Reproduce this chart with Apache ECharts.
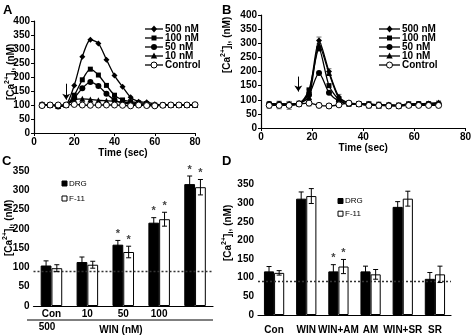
<!DOCTYPE html>
<html>
<head>
<meta charset="utf-8">
<script src="https://cdn.jsdelivr.net/npm/echarts@6/dist/echarts.min.js"></script>
<style>
  html, body { margin: 0; padding: 0; background: #fff; }
  #chart { width: 474px; height: 335px; }
</style>
</head>
<body>
<div id="chart"></div>
<script>
// ---- Panel A: WIN dose response, DRG neurons ----
const timeA = [4, 8, 12, 16, 20, 24, 28, 32, 36, 40, 44, 48, 52, 56, 60, 64, 68, 72, 76, 80];
const a500 = [103, 100, 97, 101, 170, 272, 333, 320, 262, 205, 165, 128, 112, 110, 103, 100, 100, 100, 100, 100];
const a100 = [102, 100, 96, 100, 135, 190, 228, 207, 170, 135, 118, 112, 108, 105, 100, 100, 100, 100, 100, 100];
const a50  = [101, 100, 95, 100, 125, 160, 182, 168, 140, 118, 108, 104, 100, 100, 98, 100, 100, 100, 100, 100];
const a10  = [100, 100, 97, 100, 118, 122, 120, 117, 115, 113, 110, 108, 104, 102, 100, 100, 100, 100, 100, 100];
const aCtl = [98, 100, 100, 100, 102, 100, 99, 100, 100, 100, 99, 97, 100, 98, 97, 99, 100, 100, 100, 101];
const arrowA = [[16, 176], [16, 119]];

// ---- Panel B: WIN dose response, F-11 cells ----
const timeB = [3.2, 7.1, 11, 14.9, 18.8, 22.7, 26.6, 30.5, 34.4, 38.3, 42.2, 46.1, 50, 53.9, 57.8, 61.7, 65.6, 69.5];
const b500 = [85, 85, 85, 88, 125, 310, 200, 110, 88, 85, 85, 82, 82, 80, 85, 85, 85, 88];
const b100 = [82, 80, 82, 85, 135, 280, 150, 100, 85, 85, 85, 80, 80, 80, 85, 85, 85, 85];
const b50  = [85, 85, 82, 85, 118, 195, 125, 95, 85, 85, 82, 82, 80, 78, 82, 85, 85, 85];
const b10  = [85, 85, 85, 88, 110, 295, 195, 105, 88, 85, 82, 80, 82, 80, 82, 85, 88, 90];
const bCtl = [80, 80, 80, 85, 88, 80, 78, 82, 88, 85, 80, 80, 78, 78, 80, 80, 80, 80];
const b500err = [9, 10, 9, 8, 12, 12, 10, 9, 8, 8, 9, 10, 8, 9, 8, 8, 8, 8];
const bCtlErr = [10, 12, 14, 6, 10, 8, 8, 6, 6, 8, 10, 10, 8, 8, 6, 6, 6, 8];
const arrowB = [[14.6, 182], [14.6, 129]];

// ---- Panel C: peak [Ca2+]i vs WIN concentration ----
const catC = ['Con', '10', '50', '100', '500'];
const cDRG = [105, 114, 159, 216, 316];
const cDRGerr = [12, 13, 11, 13, 21];
const cF11 = [98, 107, 140, 225, 308];
const cF11err = [9, 9, 15, 18, 20];
const cStar = [0, 0, 1, 1, 1];
const baseC = 90;

// ---- Panel D: antagonists ----
const catD = ['Con', 'WIN', 'WIN+AM', 'AM', 'WIN+SR', 'SR'];
const dDRG = [117, 312, 117, 117, 290, 97];
const dDRGerr = [13, 18, 18, 14, 14, 17];
const dF11 = [113, 319, 130, 109, 312, 109];
const dF11err = [6, 20, 19, 13, 20, 22];
const dStar = [0, 0, 1, 0, 0, 0];
const baseD = 91;

const doses = ['500 nM', '100 nM', '50 nM', '10 nM', 'Control'];
const doseSymbols = ['diamond', 'rect', 'circle', 'triangle', 'circle'];
const cells = ['DRG', 'F-11'];

const FONT = 'Arial, "Liberation Sans", Helvetica, sans-serif';

function axisStyle(labelExtra) {
  return {
    axisLine: { lineStyle: { color: '#000', width: 1.2 } },
    axisTick: { length: 3, lineStyle: { color: '#000', width: 1 } },
    axisLabel: Object.assign({ color: '#000', fontWeight: 'bold', fontSize: 10, fontFamily: FONT, margin: 4 }, labelExtra || {}),
    splitLine: { show: false }
  };
}
const nameStyle = { color: '#000', fontWeight: 'bold', fontSize: 10, fontFamily: FONT };

function pairs(xs, ys) { return xs.map((x, i) => [x, ys[i]]); }
const symSize = (s) => (s === 'rect' ? 5 : 6);

function lineSeries(name, data, gi, symbol, open) {
  return {
    type: 'line', name, xAxisIndex: gi, yAxisIndex: gi,
    data, smooth: 0.25,
    symbol, symbolSize: symSize(symbol), showSymbol: true,
    lineStyle: { color: '#000', width: 1.3 },
    itemStyle: open ? { color: '#fff', borderColor: '#000', borderWidth: 1 } : { color: '#000', borderColor: '#000', borderWidth: 0 },
    z: open ? 4 : 3
  };
}
function doseSeries(xs, rows, gi) {
  return doses.map((d, k) => lineSeries(d, pairs(xs, rows[k]), gi, doseSymbols[k], k === doses.length - 1));
}

function arrowLine(pts) {
  return {
    silent: true, symbol: ['none', 'arrow'], symbolSize: 6,
    label: { show: false },
    lineStyle: { color: '#000', width: 1, type: 'solid' },
    data: [[{ coord: pts[0] }, { coord: pts[1] }]]
  };
}

// whiskers for the time-course points
function lineErrSeries(xs, ys, es, gi) {
  return {
    type: 'custom', xAxisIndex: gi, yAxisIndex: gi, silent: true, z: 2,
    data: xs.map((x, i) => [x, ys[i], es[i]]),
    renderItem(params, api) {
      const x = api.value(0), v = api.value(1), e = api.value(2);
      const t = api.coord([x, v + e]), b = api.coord([x, v - e]);
      const st = { stroke: '#777', lineWidth: 1 };
      return { type: 'group', children: [
        { type: 'line', shape: { x1: t[0], y1: t[1], x2: b[0], y2: b[1] }, style: st },
        { type: 'line', shape: { x1: t[0] - 2.5, y1: t[1], x2: t[0] + 2.5, y2: t[1] }, style: st },
        { type: 'line', shape: { x1: b[0] - 2.5, y1: b[1], x2: b[0] + 2.5, y2: b[1] }, style: st }
      ] };
    }
  };
}

// whiskers (+ significance star) for grouped bars; side -1 = DRG, +1 = F-11
function barErrSeries(vals, errs, stars, gi, frac, side) {
  return {
    type: 'custom', xAxisIndex: gi, yAxisIndex: gi, silent: true, z: 5,
    data: vals.map((v, i) => [i, v, errs[i], stars[i]]),
    renderItem(params, api) {
      const i = api.value(0), v = api.value(1), e = api.value(2), s = api.value(3);
      const band = api.size([1, 0])[0];
      const bw = band * frac;
      const c = api.coord([i, v]);
      const x = c[0] + side * bw / 2;
      const top = api.coord([i, v + e])[1], bot = api.coord([i, v - e])[1];
      const st = { stroke: '#000', lineWidth: 1 };
      const kids = [
        { type: 'line', shape: { x1: x, y1: top, x2: x, y2: bot }, style: st },
        { type: 'line', shape: { x1: x - 2.5, y1: top, x2: x + 2.5, y2: top }, style: st },
        { type: 'line', shape: { x1: x - 2.5, y1: bot, x2: x + 2.5, y2: bot }, style: st }
      ];
      if (s) {
        kids.push({ type: 'text', style: { x: x, y: top - 1, text: '*', font: 'bold 11px ' + FONT,
          fill: '#444', align: 'center', verticalAlign: 'bottom' } });
      }
      return { type: 'group', children: kids };
    }
  };
}

function barSeries(name, vals, gi, gap, filled, base) {
  const s = {
    type: 'bar', name, xAxisIndex: gi, yAxisIndex: gi, data: vals,
    barGap: '0%', barCategoryGap: gap,
    itemStyle: filled ? { color: '#000', borderColor: '#000', borderWidth: 1 } : { color: '#fff', borderColor: '#000', borderWidth: 1 },
    z: 2
  };
  if (base !== undefined) {
    s.markLine = {
      silent: true, symbol: 'none', label: { show: false },
      lineStyle: { color: '#333', width: 1.3, type: [2, 2] },
      data: [{ yAxis: base }]
    };
  }
  return s;
}

// ---------- keys, titles and panel letters as graphic elements ----------
function plainText(text, x, y, size, bold, align) {
  return { type: 'text', x, y, style: { text, font: (bold ? 'bold ' : '') + size + 'px ' + FONT, fill: '#000',
    align: align || 'left', verticalAlign: 'middle' } };
}
function markerShape(sym, cx, cy, open) {
  const fill = open ? '#fff' : '#000';
  const st = { fill, stroke: '#000', lineWidth: open ? 1 : 0 };
  if (sym === 'diamond') return { type: 'polygon', shape: { points: [[cx, cy - 3.5], [cx + 3, cy], [cx, cy + 3.5], [cx - 3, cy]] }, style: st };
  if (sym === 'rect') return { type: 'rect', shape: { x: cx - 2.5, y: cy - 2.5, width: 5, height: 5 }, style: st };
  if (sym === 'triangle') return { type: 'polygon', shape: { points: [[cx, cy - 3.5], [cx + 3.2, cy + 2.5], [cx - 3.2, cy + 2.5]] }, style: st };
  return { type: 'circle', shape: { cx, cy, r: 3 }, style: st };
}
function doseKey(x0, x1, y0, step) {
  const out = [];
  doses.forEach((d, k) => {
    const y = y0 + k * step;
    out.push({ type: 'line', shape: { x1: x0, y1: y, x2: x1, y2: y }, style: { stroke: '#000', lineWidth: 1.3 } });
    out.push(markerShape(doseSymbols[k], (x0 + x1) / 2, y, k === doses.length - 1));
    out.push(plainText(d, x1 + 2, y, 10, true));
  });
  return out;
}
function cellKey(x0, y0, step) {
  const out = [];
  cells.forEach((c, k) => {
    const y = y0 + k * step;
    out.push({ type: 'rect', shape: { x: x0, y: y - 2.5, width: 5, height: 5 },
      style: { fill: k === 0 ? '#000' : '#fff', stroke: '#000', lineWidth: 1 } });
    out.push(plainText(c, x0 + 7, y, 8, false));
  });
  return out;
}
function caLabel(cx, cy) {
  return {
    type: 'group', x: cx, y: cy, rotation: Math.PI / 2,
    children: [
      plainText('[Ca', -28, 0, 10, true),
      plainText('2+', -12, -4, 7, true),
      plainText(']', -4, 0, 10, true),
      plainText('i', -0.6, 3.5, 7, true),
      plainText(', (nM)', 1.6, 0, 10, true)
    ]
  };
}

const seriesA = doseSeries(timeA, [a500, a100, a50, a10, aCtl], 0);
seriesA[seriesA.length - 1].markLine = arrowLine(arrowA);
const seriesB = [lineErrSeries(timeB, b500, b500err, 1), lineErrSeries(timeB, bCtl, bCtlErr, 1)]
  .concat(doseSeries(timeB, [b500, b100, b50, b10, bCtl], 1));
seriesB[seriesB.length - 1].markLine = arrowLine(arrowB);
const seriesC = [
  barSeries(cells[0], cDRG, 2, '40%', true, baseC),
  barSeries(cells[1], cF11, 2, '40%', false),
  barErrSeries(cDRG, cDRGerr, cStar, 2, 0.3, -1),
  barErrSeries(cF11, cF11err, cStar, 2, 0.3, 1)
];
const seriesD = [
  barSeries(cells[0], dDRG, 3, '37%', true, baseD),
  barSeries(cells[1], dF11, 3, '37%', false),
  barErrSeries(dDRG, dDRGerr, dStar, 3, 0.315, -1),
  barErrSeries(dF11, dF11err, dStar, 3, 0.315, 1)
];

const option = {
  animation: false,
  backgroundColor: '#fff',
  grid: [
    { left: 34, top: 21, width: 161, height: 112 },
    { left: 261, top: 15, width: 206, height: 113 },
    { left: 33.5, top: 171, width: 179.5, height: 135 },
    { left: 258, top: 184.5, width: 193, height: 131 }
  ],
  xAxis: [
    Object.assign({ gridIndex: 0, type: 'value', min: 0, max: 80, interval: 20,
      name: 'Time (sec)', nameLocation: 'middle', nameGap: 12,
      nameTextStyle: Object.assign({ padding: [0, 0, 0, 17] }, nameStyle) }, axisStyle()),
    Object.assign({ gridIndex: 1, type: 'value', min: 0, max: 80, interval: 20,
      name: 'Time (sec)', nameLocation: 'middle', nameGap: 13, nameTextStyle: nameStyle }, axisStyle()),
    Object.assign({ gridIndex: 2, type: 'category', data: catC },
      axisStyle({ margin: 3, interval: 0, formatter: (v, i) => (i === catC.length - 1 ? '' : v) })),
    Object.assign({ gridIndex: 3, type: 'category', data: catD },
      axisStyle({ margin: 10, interval: 0 }))
  ],
  yAxis: [
    Object.assign({ gridIndex: 0, type: 'value', min: 0, max: 400, interval: 50 }, axisStyle()),
    Object.assign({ gridIndex: 1, type: 'value', min: 0, max: 400, interval: 50 }, axisStyle()),
    Object.assign({ gridIndex: 2, type: 'value', min: 0, max: 350, interval: 50 }, axisStyle()),
    Object.assign({ gridIndex: 3, type: 'value', min: 0, max: 350, interval: 50 }, axisStyle())
  ],
  series: [].concat(seriesA, seriesB, seriesC, seriesD),
  graphic: [].concat(
    doseKey(145, 163, 29, 9),
    doseKey(379, 400, 29, 9),
    cellKey(62, 183.5, 15),
    cellKey(338, 201, 12.7),
    [
      plainText('A', 3, 10, 13, true), plainText('B', 222, 10, 13, true),
      plainText('C', 2, 161, 13, true), plainText('D', 222, 161, 13, true),
      caLabel(11, 72), caLabel(227, 45), caLabel(9, 228), caLabel(228, 233),
      { type: 'line', shape: { x1: 27, y1: 320, x2: 213, y2: 320 }, style: { stroke: '#000', lineWidth: 1 } },
      plainText(catC[catC.length - 1], 47, 327, 10, true, 'center'),
      plainText('WIN (nM)', 121, 330, 10, true, 'center')
    ]
  )
};

const chart = echarts.init(document.getElementById('chart'), null, { renderer: 'canvas' });
chart.setOption(option);
</script>
</body>
</html>
